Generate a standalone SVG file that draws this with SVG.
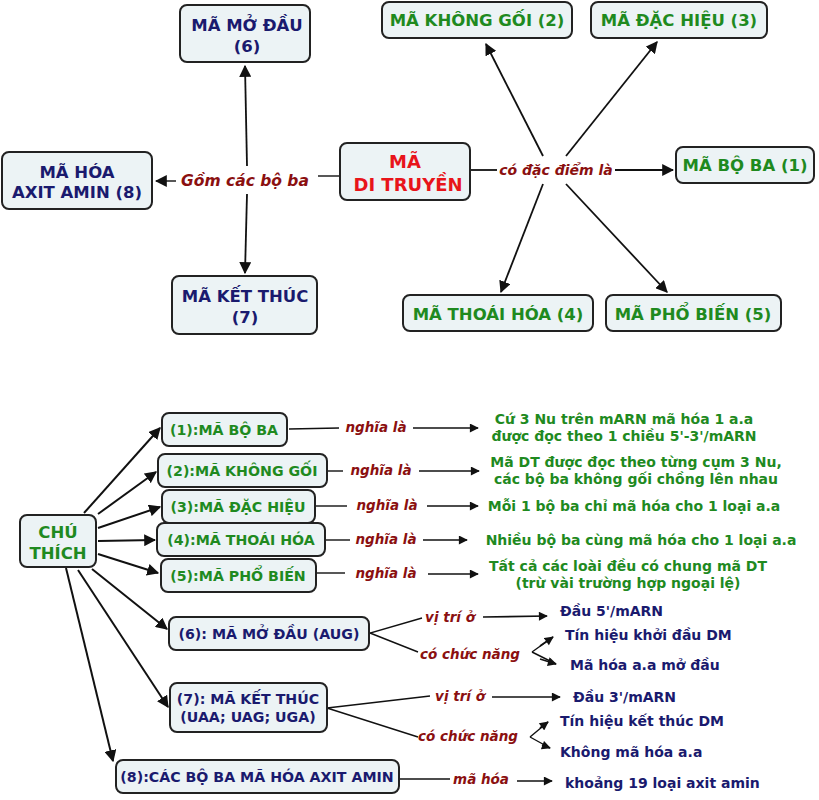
<svg xmlns="http://www.w3.org/2000/svg" width="819" height="800" viewBox="0 0 819 800">
<style>
.b{fill:#ecf3f5;stroke:#222;stroke-width:2}
text{font-family:"DejaVu Sans",Verdana,sans-serif;font-weight:bold;font-size:16.5px;text-anchor:middle}
.n{fill:#1a1a6e}.g{fill:#1f8a1f}.r{fill:#e8141a;font-size:18px}
.l{fill:#8b1010;font-style:italic;font-size:13.5px}
.s{font-size:14.2px}
.d{font-size:14px}
.st{text-anchor:start}
line,path{stroke:#111;stroke-width:1.4;fill:none}
.a{marker-end:url(#ar);stroke-width:1.6}
</style>
<defs><marker id="ar" viewBox="0 0 10 10" refX="9" refY="5" markerWidth="10" markerHeight="9" orient="auto" markerUnits="userSpaceOnUse"><path d="M0,0L10,5L0,10z" style="fill:#111;stroke:none"/></marker>
<marker id="ar2" viewBox="0 0 10 10" refX="9" refY="5" markerWidth="12" markerHeight="12" orient="auto" markerUnits="userSpaceOnUse"><path d="M0,0L10,5L0,10z" style="fill:#111;stroke:none"/></marker></defs>
<g id="connectors">
<line x1="340" y1="176" x2="318" y2="176"/>
<line x1="176" y1="181" x2="156" y2="181" style="marker-end:url(#ar2)"/>
<line x1="247" y1="166" x2="245" y2="66" style="marker-end:url(#ar2);stroke-width:1.8"/>
<line x1="247" y1="194" x2="245" y2="273" style="marker-end:url(#ar2);stroke-width:1.8"/>
<line x1="470" y1="170" x2="497" y2="170" style="stroke-width:1.8"/>
<line x1="615" y1="170" x2="673" y2="170" style="marker-end:url(#ar2);stroke-width:1.8"/>
<line x1="543" y1="156" x2="486" y2="44" style="marker-end:url(#ar2);stroke-width:1.8"/>
<line x1="566" y1="156" x2="657" y2="42" style="marker-end:url(#ar2);stroke-width:1.8"/>
<line x1="543" y1="184" x2="501" y2="292" style="marker-end:url(#ar2);stroke-width:1.8"/>
<line x1="566" y1="184" x2="667" y2="292" style="marker-end:url(#ar2);stroke-width:1.8"/>
<line x1="84" y1="513" x2="160" y2="428" style="marker-end:url(#ar2);stroke-width:2"/>
<line x1="98" y1="514" x2="156" y2="472" style="marker-end:url(#ar2);stroke-width:2"/>
<line x1="98" y1="528" x2="160" y2="507" style="marker-end:url(#ar2);stroke-width:2"/>
<line x1="98" y1="541" x2="155" y2="540" style="marker-end:url(#ar2);stroke-width:2"/>
<line x1="98" y1="554" x2="158" y2="573" style="marker-end:url(#ar2);stroke-width:2"/>
<line x1="92" y1="569" x2="167" y2="629" style="marker-end:url(#ar2);stroke-width:2"/>
<line x1="78" y1="570" x2="168" y2="707" style="marker-end:url(#ar2);stroke-width:2"/>
<line x1="66" y1="568" x2="113" y2="761" style="marker-end:url(#ar2);stroke-width:2"/>
<line x1="289" y1="429" x2="339" y2="428"/>
<line x1="413" y1="428" x2="478" y2="428" class="a"/>
<line x1="327" y1="471" x2="343" y2="471"/>
<line x1="419" y1="471" x2="479" y2="471" class="a"/>
<line x1="315" y1="506" x2="347" y2="506"/>
<line x1="427" y1="506" x2="478" y2="506" class="a"/>
<line x1="325" y1="540" x2="350" y2="540"/>
<line x1="423" y1="540" x2="467" y2="540" class="a"/>
<line x1="316" y1="573" x2="345" y2="573"/>
<line x1="428" y1="574" x2="478" y2="574" class="a"/>
<path d="M422,618L370,633L418,652"/>
<line x1="483" y1="617" x2="547" y2="616" class="a"/>
<path d="M532,652L553,637M532,652L556,664"/>
<line x1="540" y1="646" x2="553" y2="637" class="a"/>
<line x1="540" y1="659" x2="556" y2="664" class="a"/>
<path d="M430,696L327,708L418,737"/>
<line x1="492" y1="697" x2="560" y2="697" class="a"/>
<path d="M530,737L548,722M530,737L550,748"/>
<line x1="540" y1="728" x2="548" y2="722" class="a"/>
<line x1="542" y1="745" x2="550" y2="748" class="a"/>
<line x1="399" y1="779" x2="450" y2="779"/>
<line x1="517" y1="781" x2="552" y2="781" class="a"/>
</g>
<g id="n6"><rect class="b" x="180" y="5" width="130" height="57" rx="7"/><text class="n" x="247" y="31">MÃ MỞ ĐẦU</text><text class="n" x="247" y="52">(6)</text></g>
<g id="n8"><rect class="b" x="2" y="152" width="150" height="57" rx="7"/><text class="n" x="77" y="178">MÃ HÓA</text><text class="n" x="77" y="198">AXIT AMIN (8)</text></g>
<g id="n7"><rect class="b" x="172" y="276" width="145" height="58" rx="7"/><text class="n" x="245" y="302">MÃ KẾT THÚC</text><text class="n" x="245" y="323">(7)</text></g>
<g id="main"><rect class="b" x="340" y="143" width="130" height="57" rx="7"/><text class="r" x="405" y="168">MÃ</text><text class="r" x="408" y="191">DI TRUYỀN</text></g>
<g id="n2"><rect class="b" x="382" y="2" width="190" height="36" rx="7"/><text class="g" x="477" y="26">MÃ KHÔNG GỐI (2)</text></g>
<g id="n3"><rect class="b" x="591" y="2" width="176" height="36" rx="7"/><text class="g" x="679" y="26">MÃ ĐẶC HIỆU (3)</text></g>
<g id="n1"><rect class="b" x="676" y="147" width="138" height="36" rx="7"/><text class="g" x="745" y="171">MÃ BỘ BA (1)</text></g>
<g id="n4"><rect class="b" x="403" y="295" width="190" height="36" rx="7"/><text class="g" x="498" y="320">MÃ THOÁI HÓA (4)</text></g>
<g id="n5"><rect class="b" x="606" y="295" width="175" height="36" rx="7"/><text class="g" x="693" y="320">MÃ PHỔ BIẾN (5)</text></g>
<g id="labels-top"><text class="l" x="245" y="186" style="font-size:15.5px">Gồm các bộ ba</text><text class="l" x="556" y="175" style="font-size:14px">có đặc điểm là</text></g>
<g id="ct"><rect class="b" x="20" y="515" width="76" height="52" rx="7"/><text class="g" x="58" y="538">CHÚ</text><text class="g" x="58" y="559">THÍCH</text></g>
<g id="c1"><rect class="b" x="162" y="413" width="125" height="33" rx="7"/><text class="g s" x="224" y="435">(1):MÃ BỘ BA</text></g>
<g id="c2"><rect class="b" x="158" y="454" width="169" height="33" rx="7"/><text class="g s" x="242" y="476">(2):MÃ KHÔNG GỐI</text></g>
<g id="c3"><rect class="b" x="162" y="490" width="153" height="33" rx="7"/><text class="g s" x="238" y="512">(3):MÃ ĐẶC HIỆU</text></g>
<g id="c4"><rect class="b" x="157" y="523" width="168" height="33" rx="7"/><text class="g s" x="241" y="545">(4):MÃ THOÁI HÓA</text></g>
<g id="c5"><rect class="b" x="161" y="559" width="155" height="33" rx="7"/><text class="g s" x="238" y="581">(5):MÃ PHỔ BIẾN</text></g>
<g id="c6"><rect class="b" x="169" y="617" width="200" height="33" rx="7"/><text class="n s" x="269" y="639">(6): MÃ MỞ ĐẦU (AUG)</text></g>
<g id="c7"><rect class="b" x="170" y="683" width="157" height="49" rx="7"/><text class="n s" x="248" y="704">(7): MÃ KẾT THÚC</text><text class="n s" x="248" y="722">(UAA; UAG; UGA)</text></g>
<g id="c8"><rect class="b" x="116" y="760" width="283" height="33" rx="7"/><text class="n s" x="257" y="782">(8):CÁC BỘ BA MÃ HÓA AXIT AMIN</text></g>
<g id="labels-bottom">
<text class="l" x="376" y="432">nghĩa là</text><text class="l" x="381" y="475">nghĩa là</text><text class="l" x="387" y="510">nghĩa là</text><text class="l" x="386" y="544">nghĩa là</text><text class="l" x="386" y="578">nghĩa là</text>
<text class="l" x="450" y="622">vị trí ở</text><text class="l" x="470" y="659">có chức năng</text>
<text class="l" x="460" y="701">vị trí ở</text><text class="l" x="468" y="741">có chức năng</text>
<text class="l" x="481" y="784">mã hóa</text>
</g>
<g id="defs-text">
<text class="g d" x="624" y="424">Cứ 3 Nu trên mARN mã hóa 1 a.a</text><text class="g d" x="624" y="441">được đọc theo 1 chiều 5'-3'/mARN</text>
<text class="g d" x="636" y="467">Mã DT được đọc theo từng cụm 3 Nu,</text><text class="g d" x="636" y="484">các bộ ba không gối chồng lên nhau</text>
<text class="g d" x="634" y="511">Mỗi 1 bộ ba chỉ mã hóa cho 1 loại a.a</text>
<text class="g d" x="641" y="545">Nhiều bộ ba cùng mã hóa cho 1 loại a.a</text>
<text class="g d" x="628" y="571">Tất cả các loài đều có chung mã DT</text><text class="g d" x="628" y="588">(trừ vài trường hợp ngoại lệ)</text>
<text class="n d st" x="560" y="616">Đầu 5'/mARN</text>
<text class="n d st" x="565" y="640">Tín hiệu khởi đầu DM</text>
<text class="n d st" x="570" y="670">Mã hóa a.a mở đầu</text>
<text class="n d st" x="573" y="702">Đầu 3'/mARN</text>
<text class="n d st" x="560" y="726">Tín hiệu kết thúc DM</text>
<text class="n d st" x="560" y="757">Không mã hóa a.a</text>
<text class="n d st" x="565" y="788">khoảng 19 loại axit amin</text>
</g>
</svg>
